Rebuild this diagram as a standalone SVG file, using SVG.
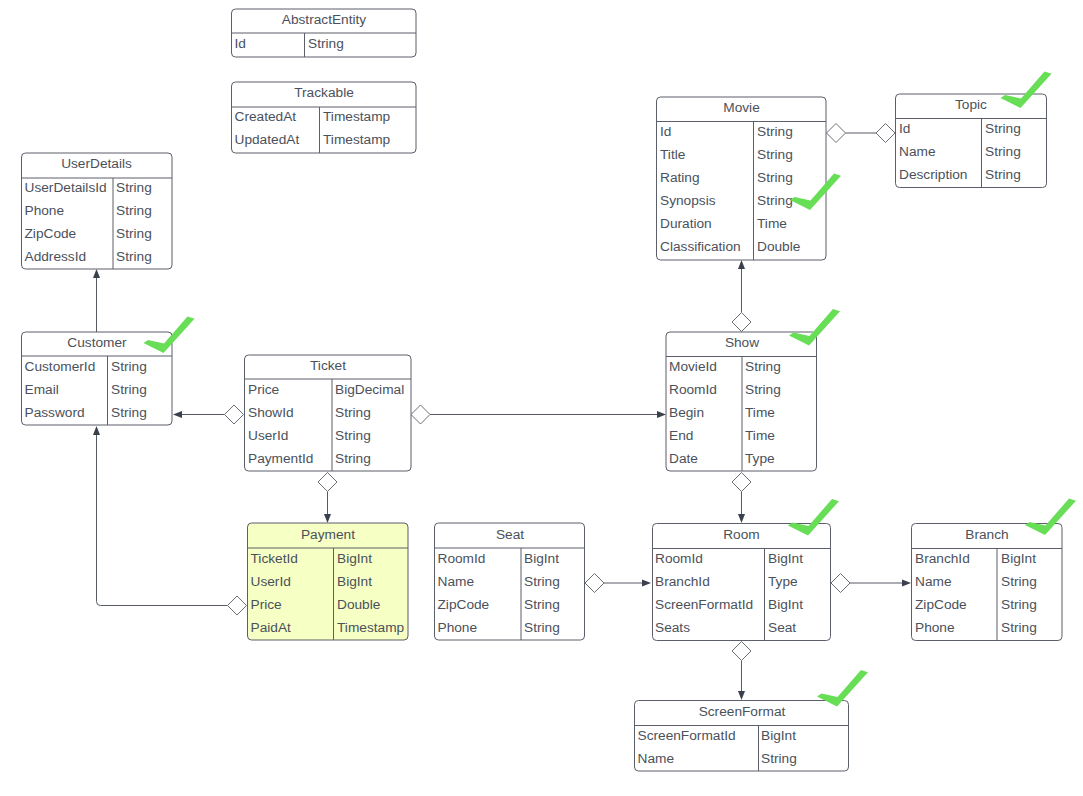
<svg xmlns="http://www.w3.org/2000/svg" xmlns:xlink="http://www.w3.org/1999/xlink" width="1083" height="796" viewBox="0 0 1083 796">
<style>
text{font-family:"Liberation Sans",Arial,sans-serif;font-size:13.7px;fill:#4b515b}
.t{text-anchor:middle}
.b{fill:#fff;stroke:#5a5f69;stroke-width:1}
.y{fill:#f6ffc4}
.l{stroke:#5a5f69;stroke-width:1;fill:none}
.c{stroke:#565b65;stroke-width:1;fill:none}
.d{fill:#fff;stroke:#6a6e76;stroke-width:1}
.a{fill:#3a414d}
.k{fill:#67de55}
</style>
<defs>
<polygon id="check" class="k" points="-0.500,0 19.500,10 50.500,-24.300 43.500,-26.500 20,0.500 4,-3"/>
<polygon id="dia" class="d" points="-9.5,0 0,-9.5 9.5,0 0,9.5"/>
<polygon id="ar" class="a" points="0,0 -9,-3.5 -9,3.5"/>
</defs>
<g id="connectors">
<path class="c" d="M845.5 133H876"/>
<use href="#dia" x="836" y="133"/><use href="#dia" x="885.5" y="133"/>
<path class="c" d="M741.5 312.500V262"/>
<use href="#dia" x="741.500" y="322"/>
<use href="#ar" transform="translate(741.5 260) rotate(-90)"/>
<path class="c" d="M96.500 332V271"/>
<use href="#ar" transform="translate(96.5 269) rotate(-90)"/>
<path class="c" d="M224.500 414.500H175"/>
<use href="#dia" x="234" y="414.500"/>
<use href="#ar" transform="translate(173 414.500) rotate(180)"/>
<path class="c" d="M430 414.500H664"/>
<use href="#dia" x="420.500" y="414.500"/>
<use href="#ar" transform="translate(666 414.500)"/>
<path class="c" d="M327.500 491.500V521"/>
<use href="#dia" x="327.500" y="482"/>
<use href="#ar" transform="translate(327.500 523) rotate(90)"/>
<path class="c" d="M227.500 605.500H100.500Q96.500 605.500 96.500 601.500V428"/>
<use href="#dia" x="237" y="605.500"/>
<use href="#ar" transform="translate(96.500 426) rotate(-90)"/>
<path class="c" d="M741.500 491.500V521"/>
<use href="#dia" x="741.500" y="482"/>
<use href="#ar" transform="translate(741.500 523) rotate(90)"/>
<path class="c" d="M604 583H649"/>
<use href="#dia" x="594.500" y="583"/>
<use href="#ar" transform="translate(651 583)"/>
<path class="c" d="M850 583H909"/>
<use href="#dia" x="840.500" y="583"/>
<use href="#ar" transform="translate(911 583)"/>
<path class="c" d="M741.500 660.500V698"/>
<use href="#dia" x="741.500" y="651"/>
<use href="#ar" transform="translate(741.500 700) rotate(90)"/>
</g>
<g id="AbstractEntity">
<rect class="b" x="231.500" y="9" width="184.500" height="48" rx="4"/><path class="l" d="M231.500 33H416M304.500 33V57"/>
<text class="t" x="324" y="24">AbstractEntity</text>
<text x="234.500" y="48">Id</text><text x="308" y="48">String</text>
</g>
<g id="Trackable">
<rect class="b" x="231.500" y="82" width="184.500" height="71" rx="4"/><path class="l" d="M231.500 107H416M319.500 107V153"/>
<text class="t" x="324" y="97">Trackable</text>
<text x="234.500" y="121">CreatedAt</text><text x="323" y="121">Timestamp</text>
<text x="234.500" y="144">UpdatedAt</text><text x="323" y="144">Timestamp</text>
</g>
<g id="UserDetails">
<rect class="b" x="21.500" y="153" width="150.500" height="116" rx="4"/><path class="l" d="M21.500 178H172M113 178V269"/>
<text class="t" x="96.500" y="168">UserDetails</text>
<text x="24.500" y="192">UserDetailsId</text><text x="116" y="192">String</text>
<text x="24.500" y="215">Phone</text><text x="116" y="215">String</text>
<text x="24.500" y="238">ZipCode</text><text x="116" y="238">String</text>
<text x="24.500" y="261">AddressId</text><text x="116" y="261">String</text>
</g>
<g id="Customer">
<rect class="b" x="21.500" y="332" width="150.500" height="93" rx="4"/><path class="l" d="M21.500 356H172M107.500 356V425"/>
<text class="t" x="97" y="347">Customer</text>
<text x="24.500" y="371">CustomerId</text><text x="111" y="371">String</text>
<text x="24.500" y="394">Email</text><text x="111" y="394">String</text>
<text x="24.500" y="417">Password</text><text x="111" y="417">String</text>
</g>
<g id="Ticket">
<rect class="b" x="244.500" y="355" width="166.500" height="116" rx="4"/><path class="l" d="M244.500 379H411M332 379V471"/>
<text class="t" x="328" y="370">Ticket</text>
<text x="248" y="394">Price</text><text x="335" y="394">BigDecimal</text>
<text x="248" y="417">ShowId</text><text x="335" y="417">String</text>
<text x="248" y="440">UserId</text><text x="335" y="440">String</text>
<text x="248" y="463">PaymentId</text><text x="335" y="463">String</text>
</g>
<g id="Payment">
<rect class="b y" x="247.500" y="523" width="160.500" height="117" rx="4"/><path class="l" d="M247.500 548H408M333.500 548V640"/>
<text class="t" x="328" y="539">Payment</text>
<text x="250.500" y="563">TicketId</text><text x="337" y="563">BigInt</text>
<text x="250.500" y="586">UserId</text><text x="337" y="586">BigInt</text>
<text x="250.500" y="609">Price</text><text x="337" y="609">Double</text>
<text x="250.500" y="632">PaidAt</text><text x="337" y="632">Timestamp</text>
</g>
<g id="Seat">
<rect class="b" x="434.500" y="523" width="150" height="117" rx="4"/><path class="l" d="M434.500 548H584.500M521 548V640"/>
<text class="t" x="510" y="539">Seat</text>
<text x="437.500" y="563">RoomId</text><text x="524" y="563">BigInt</text>
<text x="437.500" y="586">Name</text><text x="524" y="586">String</text>
<text x="437.500" y="609">ZipCode</text><text x="524" y="609">String</text>
<text x="437.500" y="632">Phone</text><text x="524" y="632">String</text>
</g>
<g id="Room">
<rect class="b" x="652.500" y="523.500" width="178" height="117" rx="4"/><path class="l" d="M652.500 548.500H830.500M764.500 548.500V640.500"/>
<text class="t" x="741.500" y="539">Room</text>
<text x="655" y="563">RoomId</text><text x="768" y="563">BigInt</text>
<text x="655" y="586">BranchId</text><text x="768" y="586">Type</text>
<text x="655" y="609">ScreenFormatId</text><text x="768" y="609">BigInt</text>
<text x="655" y="632">Seats</text><text x="768" y="632">Seat</text>
</g>
<g id="Branch">
<rect class="b" x="911.500" y="523.500" width="150.500" height="117" rx="4"/><path class="l" d="M911.500 548.500H1062M997 548.500V640.500"/>
<text class="t" x="987" y="539">Branch</text>
<text x="915" y="563">BranchId</text><text x="1001" y="563">BigInt</text>
<text x="915" y="586">Name</text><text x="1001" y="586">String</text>
<text x="915" y="609">ZipCode</text><text x="1001" y="609">String</text>
<text x="915" y="632">Phone</text><text x="1001" y="632">String</text>
</g>
<g id="ScreenFormat">
<rect class="b" x="634.500" y="700.500" width="214" height="70.500" rx="4"/><path class="l" d="M634.500 725.500H848.500M758.500 725.500V771"/>
<text class="t" x="742" y="716">ScreenFormat</text>
<text x="637.500" y="740">ScreenFormatId</text><text x="761" y="740">BigInt</text>
<text x="637.500" y="763">Name</text><text x="761" y="763">String</text>
</g>
<g id="Show">
<rect class="b" x="666" y="332" width="150.500" height="139" rx="4"/><path class="l" d="M666 356.500H816.500M742 356.500V471"/>
<text class="t" x="742" y="347">Show</text>
<text x="669" y="371">MovieId</text><text x="745" y="371">String</text>
<text x="669" y="394">RoomId</text><text x="745" y="394">String</text>
<text x="669" y="417">Begin</text><text x="745" y="417">Time</text>
<text x="669" y="440">End</text><text x="745" y="440">Time</text>
<text x="669" y="463">Date</text><text x="745" y="463">Type</text>
</g>
<g id="Movie">
<rect class="b" x="656.500" y="97" width="169.500" height="163" rx="4"/><path class="l" d="M656.500 121.500H826M753.500 121.500V260"/>
<text class="t" x="741.500" y="112">Movie</text>
<text x="660" y="136">Id</text><text x="757" y="136">String</text>
<text x="660" y="159">Title</text><text x="757" y="159">String</text>
<text x="660" y="182">Rating</text><text x="757" y="182">String</text>
<text x="660" y="205">Synopsis</text><text x="757" y="205">String</text>
<text x="660" y="228">Duration</text><text x="757" y="228">Time</text>
<text x="660" y="251">Classification</text><text x="757" y="251">Double</text>
</g>
<g id="Topic">
<rect class="b" x="895.500" y="94" width="151" height="93.500" rx="4"/><path class="l" d="M895.500 118.500H1046.500M981.500 118.500V187.500"/>
<text class="t" x="971" y="109">Topic</text>
<text x="899" y="133">Id</text><text x="985" y="133">String</text>
<text x="899" y="156">Name</text><text x="985" y="156">String</text>
<text x="899" y="179">Description</text><text x="985" y="179">String</text>
</g>
<g id="checks">
<use href="#check" x="1001" y="98"/>
<use href="#check" x="790.500" y="200"/>
<use href="#check" x="789.500" y="335.500"/>
<use href="#check" x="144" y="343"/>
<use href="#check" x="788.500" y="525.500"/>
<use href="#check" x="1025.500" y="525"/>
<use href="#check" x="817.500" y="696.500"/>
</g>
</svg>
